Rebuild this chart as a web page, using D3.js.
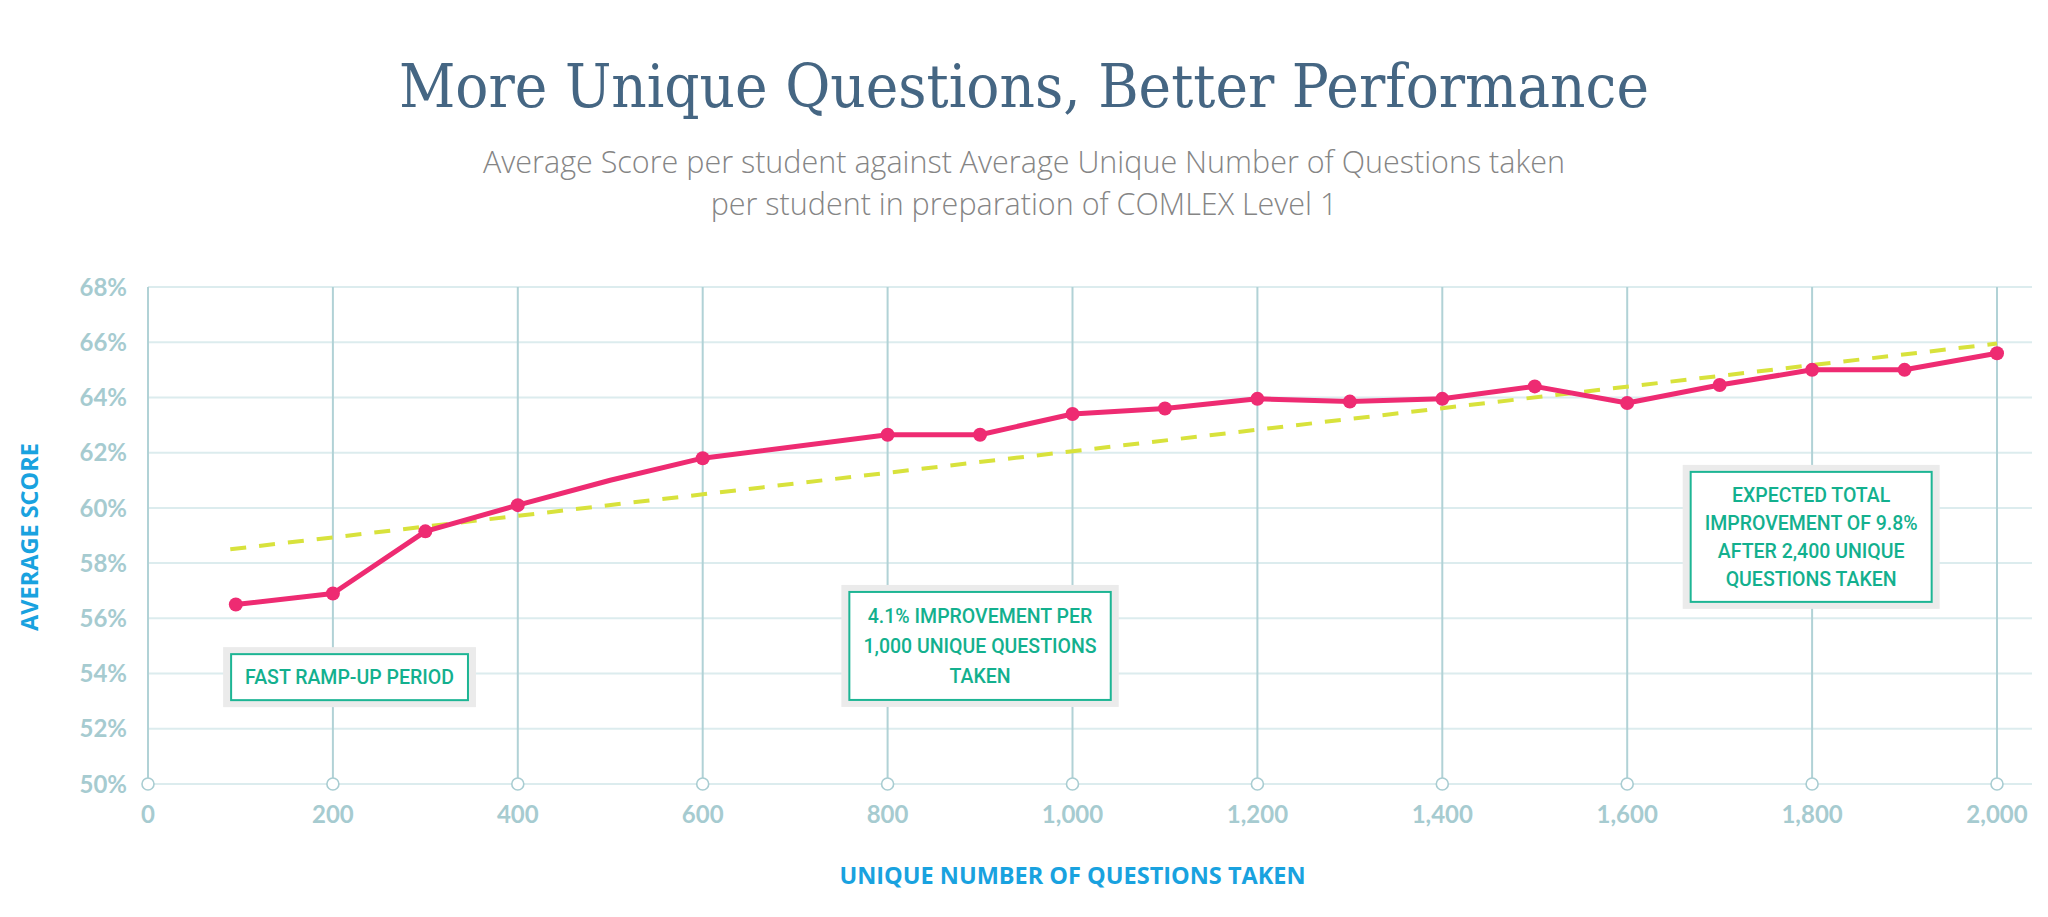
<!DOCTYPE html>
<html>
<head>
<meta charset="utf-8">
<script src="https://cdn.jsdelivr.net/npm/d3@7"></script>
<style>
  body { margin: 0; background: #fff; }
  svg { display: block; }
</style>
</head>
<body>
<script>
// chart data
const questions = [95, 200, 300, 400, 500, 600, 800, 900, 1000, 1100, 1200, 1300, 1400, 1500, 1600, 1700, 1800, 1900, 2000];
const scores = [56.5, 56.9, 59.15, 60.1, 61.0, 61.8, 62.65, 62.65, 63.4, 63.6, 63.95, 63.85, 63.95, 64.4, 63.8, 64.45, 65.0, 65.0, 65.6];
const noMarker = [500]; // bend in the line without a dot
const trendX = [89, 2000];
const trendY = [58.5, 65.95];
const xTicks = [0, 200, 400, 600, 800, 1000, 1200, 1400, 1600, 1800, 2000];
const yTicks = [50, 52, 54, 56, 58, 60, 62, 64, 66, 68];
const notes = [
  { x: 218, y: 53.87, lines: ["FAST RAMP-UP PERIOD"], lh: 28 },
  { x: 900, y: 55.0, lines: ["4.1% IMPROVEMENT PER", "1,000 UNIQUE QUESTIONS", "TAKEN"], lh: 30 },
  { x: 1799, y: 58.95, lines: ["EXPECTED TOTAL", "IMPROVEMENT OF 9.8%", "AFTER 2,400 UNIQUE", "QUESTIONS TAKEN"], lh: 28 }
];

const width = 2048, height = 917;
const svg = d3.select("body").append("svg")
    .attr("width", width)
    .attr("height", height);

const x = d3.scaleLinear().domain([0, 2000]).range([148, 1997]);
const y = d3.scaleLinear().domain([50, 68]).range([784, 287]);
const gridRight = 2032;

// title + subtitle
const title = svg.append("text")
    .attr("x", width / 2).attr("y", 107)
    .attr("text-anchor", "middle")
    .attr("font-family", "'DejaVu Serif', serif")
    .attr("font-size", 60)
    .attr("fill", "#456683")
    .text("More Unique Questions, Better Performance");
const tl = title.node().getComputedTextLength();
if (tl > 1250) title.attr("textLength", 1250).attr("lengthAdjust", "spacingAndGlyphs");

const subs = ["Average Score per student against Average Unique Number of Questions taken",
              "per student in preparation of COMLEX Level 1"];
svg.selectAll(".sub").data(subs).enter().append("text")
    .attr("class", "sub")
    .attr("x", width / 2)
    .attr("y", (d, i) => 173 + i * 42)
    .attr("text-anchor", "middle")
    .attr("font-family", "'Open Sans', sans-serif")
    .attr("font-weight", 300)
    .attr("font-size", 30.5)
    .attr("fill", "#858585")
    .text(d => d);

// horizontal grid
svg.append("g").selectAll("line").data(yTicks).enter().append("line")
    .attr("x1", x(0)).attr("x2", gridRight)
    .attr("y1", d => y(d)).attr("y2", d => y(d))
    .attr("stroke", "#dcecee")
    .attr("stroke-width", 2);

// vertical grid
svg.append("g").selectAll("line").data(xTicks).enter().append("line")
    .attr("x1", d => x(d)).attr("x2", d => x(d))
    .attr("y1", y(68)).attr("y2", y(50))
    .attr("stroke", "#b1d2d6")
    .attr("stroke-width", 2);

// y tick labels
svg.append("g").selectAll("text").data(yTicks).enter().append("text")
    .attr("x", 127)
    .attr("y", d => y(d))
    .attr("dy", "0.36em")
    .attr("text-anchor", "end")
    .attr("font-family", "Lato, sans-serif")
    .attr("font-weight", 700)
    .attr("font-size", 24)
    .attr("fill", "#a6cbd0")
    .text(d => d + "%");

// x tick labels
svg.append("g").selectAll("text").data(xTicks).enter().append("text")
    .attr("x", d => x(d))
    .attr("y", 814)
    .attr("dy", "0.36em")
    .attr("text-anchor", "middle")
    .attr("font-family", "Lato, sans-serif")
    .attr("font-weight", 700)
    .attr("font-size", 24)
    .attr("fill", "#a6cbd0")
    .text(d => d3.format(",")(d));

// axis titles
svg.append("text")
    .attr("transform", `translate(38,537) rotate(-90)`)
    .attr("text-anchor", "middle")
    .attr("font-family", "'Open Sans', sans-serif")
    .attr("font-weight", 700)
    .attr("font-size", 23.5)
    .attr("fill", "#19a2df")
    .text("AVERAGE SCORE");

svg.append("text")
    .attr("x", (x(0) + x(2000)) / 2)
    .attr("y", 884)
    .attr("text-anchor", "middle")
    .attr("font-family", "'Open Sans', sans-serif")
    .attr("font-weight", 700)
    .attr("font-size", 23.5)
    .attr("fill", "#19a2df")
    .text("UNIQUE NUMBER OF QUESTIONS TAKEN");

// trend line
svg.append("line")
    .attr("x1", x(trendX[0])).attr("y1", y(trendY[0]))
    .attr("x2", x(trendX[1])).attr("y2", y(trendY[1]))
    .attr("stroke", "#d8e23c")
    .attr("stroke-width", 4)
    .attr("stroke-dasharray", "16,13");

// score line
const pts = questions.map((q, i) => ({ q: q, s: scores[i] }));
svg.append("path")
    .datum(pts)
    .attr("fill", "none")
    .attr("stroke", "#ee2b72")
    .attr("stroke-width", 5)
    .attr("stroke-linejoin", "round")
    .attr("d", d3.line().x(d => x(d.q)).y(d => y(d.s)));

svg.append("g").selectAll("circle").data(pts.filter(d => !noMarker.includes(d.q))).enter().append("circle")
    .attr("cx", d => x(d.q))
    .attr("cy", d => y(d.s))
    .attr("r", 7)
    .attr("fill", "#ee2b72");

// small rings at bottom of vertical grid
svg.append("g").selectAll("circle").data(xTicks).enter().append("circle")
    .attr("cx", d => x(d))
    .attr("cy", y(50))
    .attr("r", 6)
    .attr("fill", "#fff")
    .attr("stroke", "#a9cdd2")
    .attr("stroke-width", 1.6);

// annotation boxes
notes.forEach(n => {
  const g = svg.append("g");
  const cx = x(n.x), cy = y(n.y);
  const txt = g.append("g");
  n.lines.forEach((l, i) => {
    txt.append("text")
      .attr("x", cx)
      .attr("y", cy + (i - (n.lines.length - 1) / 2) * n.lh)
      .attr("dy", "0.36em")
      .attr("text-anchor", "middle")
      .attr("font-family", "Roboto, sans-serif")
      .attr("font-weight", 500)
      .attr("font-size", 19.5)
      .attr("fill", "#13b08e")
      .text(l);
  });
  const bb = txt.node().getBBox();
  const iw = bb.width + 28, ih = n.lines.length * n.lh + 18;
  g.insert("rect", ":first-child")
    .attr("x", cx - iw / 2).attr("y", cy - ih / 2)
    .attr("width", iw).attr("height", ih)
    .attr("fill", "#fff")
    .attr("stroke", "#1db594")
    .attr("stroke-width", 2);
  g.insert("rect", ":first-child")
    .attr("x", cx - iw / 2 - 8).attr("y", cy - ih / 2 - 7)
    .attr("width", iw + 16).attr("height", ih + 14)
    .attr("fill", "#ebebeb");
});
</script>
</body>
</html>
